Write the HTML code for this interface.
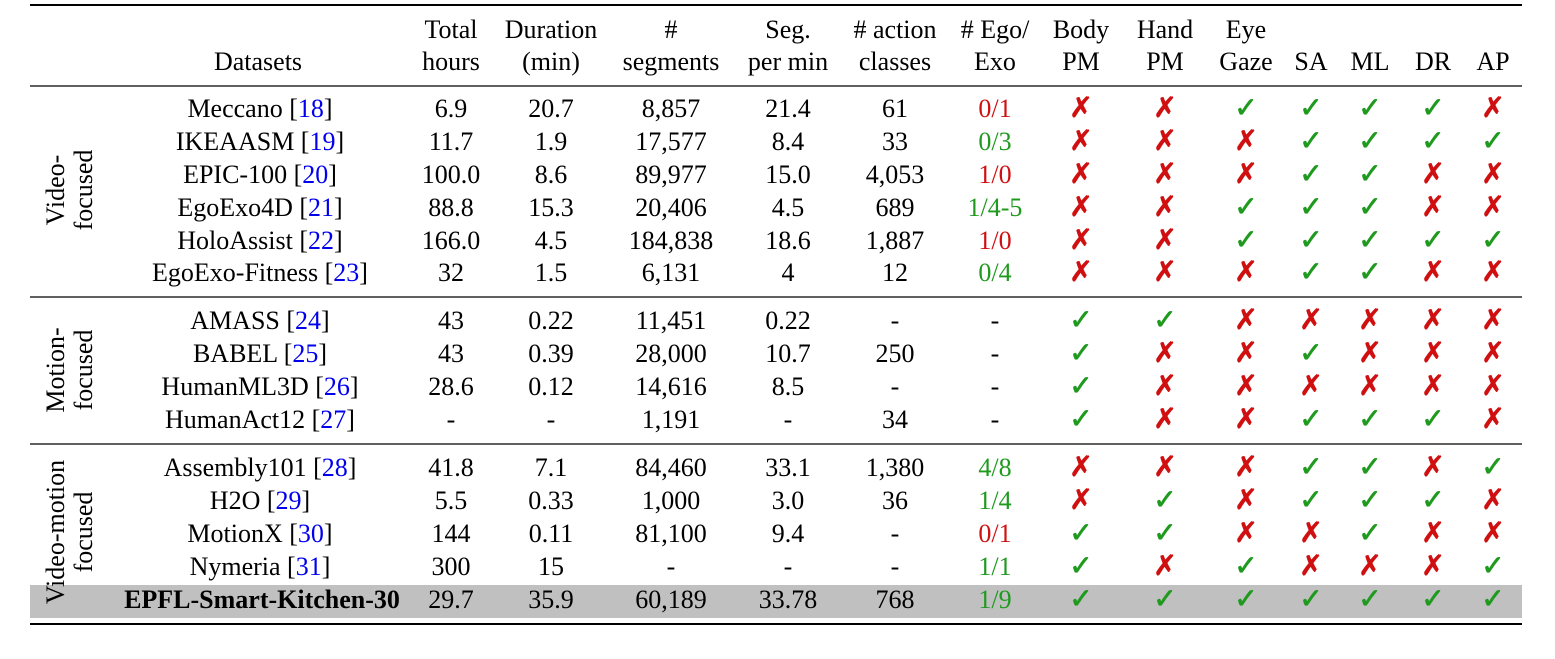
<!DOCTYPE html>
<html><head><meta charset="utf-8"><style>
html,body{margin:0;padding:0;background:#fff;}
svg{display:block;}
text{font-family:"Liberation Serif","DejaVu Serif",serif;font-size:26px;fill:#000;}
.r{fill:#d01010;stroke:#d01010;}
.g{fill:#1f9a1f;}
.m.g{stroke:#1f9a1f;}
.b{fill:#0000ee;}
.m{font-family:"DejaVu Sans",sans-serif;font-size:28px;stroke-width:0.7;}
</style></head><body>
<svg width="1555" height="659" viewBox="0 0 1555 659">
<rect x="30" y="585" width="1492" height="33" fill="#c0c0c0"/>
<line x1="30" y1="5" x2="1522" y2="5" stroke="#000" stroke-width="2"/>
<line x1="30" y1="86" x2="1522" y2="86" stroke="#000" stroke-width="1.2"/>
<line x1="30" y1="297" x2="1522" y2="297" stroke="#000" stroke-width="1.2"/>
<line x1="30" y1="444" x2="1522" y2="444" stroke="#000" stroke-width="1.2"/>
<line x1="30" y1="624" x2="1522" y2="624" stroke="#000" stroke-width="2"/>
<g text-anchor="middle">
<text x="258" y="70">Datasets</text>
<text x="451" y="38">Total</text><text x="451" y="70">hours</text>
<text x="551" y="38">Duration</text><text x="551" y="70">(min)</text>
<text x="671" y="38">#</text><text x="671" y="70">segments</text>
<text x="788" y="38">Seg.</text><text x="788" y="70">per min</text>
<text x="895" y="38"># action</text><text x="895" y="70">classes</text>
<text x="995" y="38"># Ego/</text><text x="995" y="70">Exo</text>
<text x="1081" y="38">Body</text><text x="1081" y="70">PM</text>
<text x="1165" y="38">Hand</text><text x="1165" y="70">PM</text>
<text x="1246" y="38">Eye</text><text x="1246" y="70">Gaze</text>
<text x="1311" y="70">SA</text><text x="1370" y="70">ML</text><text x="1433" y="70">DR</text><text x="1493" y="70">AP</text>

<g transform="translate(64,190) rotate(-90)"><text x="0" y="0">Video-</text><text x="0" y="28">focused</text></g>
<g transform="translate(64,370) rotate(-90)"><text x="0" y="0">Motion-</text><text x="0" y="28">focused</text></g>
<g transform="translate(64,532) rotate(-90)"><text x="0" y="0">Video-motion</text><text x="0" y="28">focused</text></g>
</g>
<g id="rows" text-anchor="middle"></g>
</svg>
<script>
var rows=[
[117,"Meccano","18","6.9","20.7","8,857","21.4","61","0/1","r","xxvvvvx"],
[150,"IKEAASM","19","11.7","1.9","17,577","8.4","33","0/3","g","xxxvvvv"],
[183,"EPIC-100","20","100.0","8.6","89,977","15.0","4,053","1/0","r","xxxvvxx"],
[216,"EgoExo4D","21","88.8","15.3","20,406","4.5","689","1/4-5","g","xxvvvxx"],
[249,"HoloAssist","22","166.0","4.5","184,838","18.6","1,887","1/0","r","xxvvvvv"],
[281,"EgoExo-Fitness","23","32","1.5","6,131","4","12","0/4","g","xxxvvxx"],
[329,"AMASS","24","43","0.22","11,451","0.22","-","-","","vvxxxxx"],
[362,"BABEL","25","43","0.39","28,000","10.7","250","-","","vxxvxxx"],
[395,"HumanML3D","26","28.6","0.12","14,616","8.5","-","-","","vxxxxxx"],
[428,"HumanAct12","27","-","-","1,191","-","34","-","","vxxvvvx"],
[476,"Assembly101","28","41.8","7.1","84,460","33.1","1,380","4/8","g","xxxvvxv"],
[509,"H2O","29","5.5","0.33","1,000","3.0","36","1/4","g","xvxvvvx"],
[542,"MotionX","30","144","0.11","81,100","9.4","-","0/1","r","vvxxvxx"],
[575,"Nymeria","31","300","15","-","-","-","1/1","g","vxvxxxv"],
[608,"EPFL-Smart-Kitchen-30","","29.7","35.9","60,189","33.78","768","1/9","g","vvvvvvv"]];
var xs=[451,551,671,788,895,995],ms=[1081,1165,1246,1311,1370,1433,1493];
var h="";
rows.forEach(function(r){
 var y=r[0];
 if(r[2]) h+='<text x="260" y="'+y+'">'+r[1]+' [<tspan class="b">'+r[2]+'</tspan>]</text>';
 else h+='<text x="262" y="'+y+'" font-weight="bold">'+r[1]+'</text>';
 for(var i=0;i<6;i++){h+='<text x="'+xs[i]+'" y="'+y+'"'+(i==5&&r[9]?' style="fill:'+(r[9]=='r'?'#d01010':'#1f9a1f')+'"':'')+'>'+r[3+i]+'</text>';}
 for(var j=0;j<7;j++){var v=r[10][j]=='v';h+='<text class="m '+(v?'g':'r')+'" x="'+ms[j]+'" y="'+y+'">'+(v?'\u2713':'\u2717')+'</text>';}
});
document.getElementById('rows').innerHTML=h;
</script>
</body></html>
